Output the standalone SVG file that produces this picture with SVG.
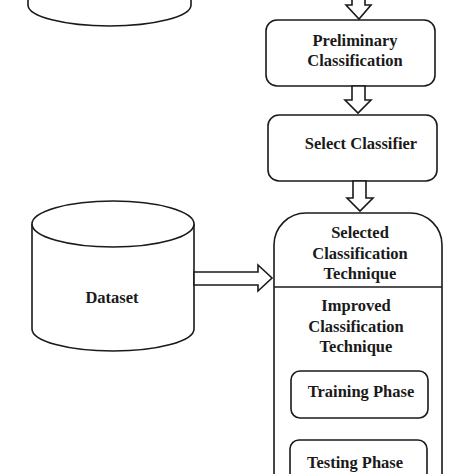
<svg xmlns="http://www.w3.org/2000/svg" width="474" height="474" viewBox="0 0 474 474">
<style>
.s{fill:#fff;stroke:#1a1a1a;stroke-width:1.6}
.t{font-family:"Liberation Serif","Times New Roman",serif;font-weight:bold;font-size:16.5px;fill:#1a1a1a;text-anchor:middle}
</style>
<rect width="474" height="474" fill="#fff"/>
<g id="top-cylinder">
<path class="s" d="M28,-10 L28,5 A81.5,21 0 0 0 191,5 L191,-10"/>
</g>
<g id="preliminary">
<rect class="s" x="266" y="20" width="169" height="66" rx="11"/>
<text class="t" x="355" y="46">Preliminary</text>
<text class="t" x="355" y="66">Classification</text>
</g>
<g id="select-classifier">
<rect class="s" x="268" y="115" width="169" height="66" rx="11"/>
<text class="t" x="361" y="149">Select Classifier</text>
</g>
<g id="dataset">
<path class="s" d="M32,224 L32,329 A81,22 0 0 0 194,329 L194,224"/>
<ellipse class="s" cx="113" cy="224" rx="81" ry="23"/>
<text class="t" x="112" y="303">Dataset</text>
</g>
<g id="technique">
<path class="s" d="M274,490 L274,245 A32,32 0 0 1 306,213 L410,213 A32,32 0 0 1 442,245 L442,490"/>
<line class="s" x1="274" y1="287" x2="442" y2="287"/>
<text class="t" x="360" y="238">Selected</text>
<text class="t" x="360" y="259">Classification</text>
<text class="t" x="360" y="279">Technique</text>
<text class="t" x="356" y="311">Improved</text>
<text class="t" x="356" y="332">Classification</text>
<text class="t" x="356" y="352">Technique</text>
</g>
<g id="training">
<rect class="s" x="291" y="371" width="137" height="47" rx="9"/>
<text class="t" x="361" y="397">Training Phase</text>
</g>
<g id="testing">
<rect class="s" x="290" y="440" width="137" height="50" rx="9"/>
<text class="t" x="355" y="468">Testing Phase</text>
</g>
<g id="connectors">
<path class="s" d="M352,-2 L352,5 L346,5 L359,19 L371,5 L365,5 L365,-2 Z"/>
<path class="s" d="M352,86 L352,100 L345,100 L358,113 L371,100 L365,100 L365,86 Z"/>
<path class="s" d="M353,181 L353,198 L347,198 L360,211 L373,198 L366,198 L366,181 Z"/>
<path class="s" d="M194,272 L258,272 L258,265 L272,278 L258,291 L258,285 L194,285 Z"/>
</g>
</svg>
